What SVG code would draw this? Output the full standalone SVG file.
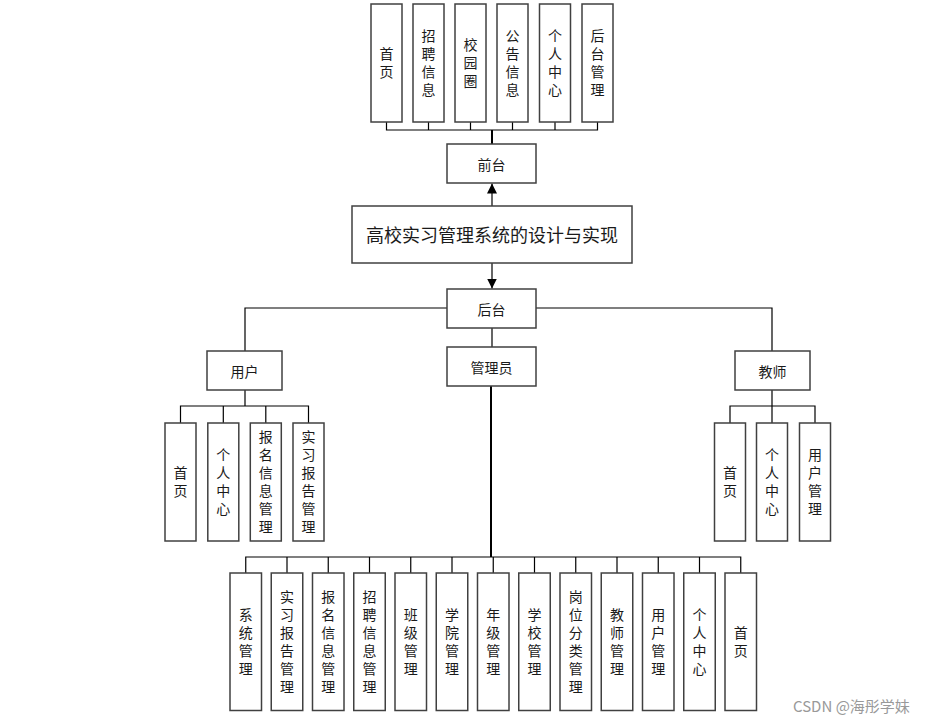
<svg xmlns="http://www.w3.org/2000/svg" width="946" height="725" viewBox="0 0 946 725">
<style>
.box{fill:#fff;stroke:#404040;stroke-width:1.5}
.ln{fill:none;stroke:#000;stroke-width:1.2}
.thick{fill:none;stroke:#000;stroke-width:2}
text{font-family:"Noto Sans CJK SC","Noto Sans",sans-serif;font-size:14px;fill:#1a1a1a;text-anchor:middle;dominant-baseline:central}
.v{writing-mode:vertical-rl;letter-spacing:4px}
.title{font-size:18px}
.wm{font-size:15px;fill:#999;text-anchor:start}
</style>
<defs>
<marker id="arr" markerWidth="10" markerHeight="10" refX="10" refY="5" orient="auto" markerUnits="userSpaceOnUse">
<path d="M0,0 L10,5 L0,10 Z" fill="#000"/>
</marker>
</defs>
<rect width="946" height="725" fill="#fff"/>
<g id="connectors">
<path class="ln" d="M386.5,122V130H597.5V122M428.5,122V130M470.5,122V130M512.5,122V130M555,122V130"/>
<path class="thick" d="M492,130V144"/>
<path class="ln" d="M492,206V183.5" marker-end="url(#arr)"/>
<path class="ln" d="M492,263V288.5" marker-end="url(#arr)"/>
<path class="ln" d="M447,308H245V351M536,308H772V351M492,328V347"/>
<path class="ln" d="M245,390V406M180.5,423V406H308.5V423M223.3,406V423M265.8,406V423"/>
<path class="ln" d="M772,390V406M730,423V406H815V423M772,406V423"/>
<path class="thick" d="M491,386V557"/>
<path class="ln" d="M245.75,573V557H740.75V573M287,557V573M328.25,557V573M369.5,557V573M410.75,557V573M452,557V573M493.25,557V573M534.5,557V573M575.75,557V573M617,557V573M658.25,557V573M699.5,557V573"/>
</g>
<g id="n_main"><rect class="box" x="352" y="206" width="280" height="57"/><text class="title" x="492" y="234">高校实习管理系统的设计与实现</text></g>
<g id="n_qiantai"><rect class="box" x="447" y="144" width="89" height="39"/><text x="491.5" y="163.5">前台</text></g>
<g id="n_houtai"><rect class="box" x="447" y="289" width="89" height="39"/><text x="491.5" y="308.5">后台</text></g>
<g id="n_admin"><rect class="box" x="447" y="347" width="89" height="39"/><text x="491.5" y="366.5">管理员</text></g>
<g id="n_user"><rect class="box" x="207" y="351" width="75" height="39"/><text x="244.5" y="370.5">用户</text></g>
<g id="n_teacher"><rect class="box" x="735" y="351" width="75" height="39"/><text x="772.5" y="370.5">教师</text></g>

<g id="t1"><rect class="box" x="371" y="4" width="31" height="118"/><text class="v" x="386.5" y="65">首页</text></g>
<g id="t2"><rect class="box" x="413" y="4" width="31" height="118"/><text class="v" x="428.5" y="65">招聘信息</text></g>
<g id="t3"><rect class="box" x="455" y="4" width="31" height="118"/><text class="v" x="470.5" y="65">校园圈</text></g>
<g id="t4"><rect class="box" x="497" y="4" width="31" height="118"/><text class="v" x="512.5" y="65">公告信息</text></g>
<g id="t5"><rect class="box" x="539.5" y="4" width="31" height="118"/><text class="v" x="555" y="65">个人中心</text></g>
<g id="t6"><rect class="box" x="582" y="4" width="31" height="118"/><text class="v" x="597.5" y="65">后台管理</text></g>

<g id="u1"><rect class="box" x="165" y="423" width="31" height="118"/><text class="v" x="180.5" y="484">首页</text></g>
<g id="u2"><rect class="box" x="207.8" y="423" width="31" height="118"/><text class="v" x="223.3" y="484">个人中心</text></g>
<g id="u3"><rect class="box" x="250.3" y="423" width="31" height="118"/><text class="v" x="265.8" y="484">报名信息管理</text></g>
<g id="u4"><rect class="box" x="293" y="423" width="31" height="118"/><text class="v" x="308.5" y="484">实习报告管理</text></g>

<g id="e1"><rect class="box" x="714.5" y="423" width="31" height="118"/><text class="v" x="730" y="484">首页</text></g>
<g id="e2"><rect class="box" x="756.5" y="423" width="31" height="118"/><text class="v" x="772" y="484">个人中心</text></g>
<g id="e3"><rect class="box" x="799.5" y="423" width="31" height="118"/><text class="v" x="815" y="484">用户管理</text></g>

<g id="a1"><rect class="box" x="230" y="573" width="31.5" height="137.5"/><text class="v" x="245.75" y="643.5">系统管理</text></g>
<g id="a2"><rect class="box" x="271.25" y="573" width="31.5" height="137.5"/><text class="v" x="287" y="643.5">实习报告管理</text></g>
<g id="a3"><rect class="box" x="312.5" y="573" width="31.5" height="137.5"/><text class="v" x="328.25" y="643.5">报名信息管理</text></g>
<g id="a4"><rect class="box" x="353.75" y="573" width="31.5" height="137.5"/><text class="v" x="369.5" y="643.5">招聘信息管理</text></g>
<g id="a5"><rect class="box" x="395" y="573" width="31.5" height="137.5"/><text class="v" x="410.75" y="643.5">班级管理</text></g>
<g id="a6"><rect class="box" x="436.25" y="573" width="31.5" height="137.5"/><text class="v" x="452" y="643.5">学院管理</text></g>
<g id="a7"><rect class="box" x="477.5" y="573" width="31.5" height="137.5"/><text class="v" x="493.25" y="643.5">年级管理</text></g>
<g id="a8"><rect class="box" x="518.75" y="573" width="31.5" height="137.5"/><text class="v" x="534.5" y="643.5">学校管理</text></g>
<g id="a9"><rect class="box" x="560" y="573" width="31.5" height="137.5"/><text class="v" x="575.75" y="643.5">岗位分类管理</text></g>
<g id="a10"><rect class="box" x="601.25" y="573" width="31.5" height="137.5"/><text class="v" x="617" y="643.5">教师管理</text></g>
<g id="a11"><rect class="box" x="642.5" y="573" width="31.5" height="137.5"/><text class="v" x="658.25" y="643.5">用户管理</text></g>
<g id="a12"><rect class="box" x="683.75" y="573" width="31.5" height="137.5"/><text class="v" x="699.5" y="643.5">个人中心</text></g>
<g id="a13"><rect class="box" x="725" y="573" width="31.5" height="137.5"/><text class="v" x="740.75" y="643.5">首页</text></g>

<text class="wm" x="793" y="705">CSDN @海彤学妹</text>
</svg>
